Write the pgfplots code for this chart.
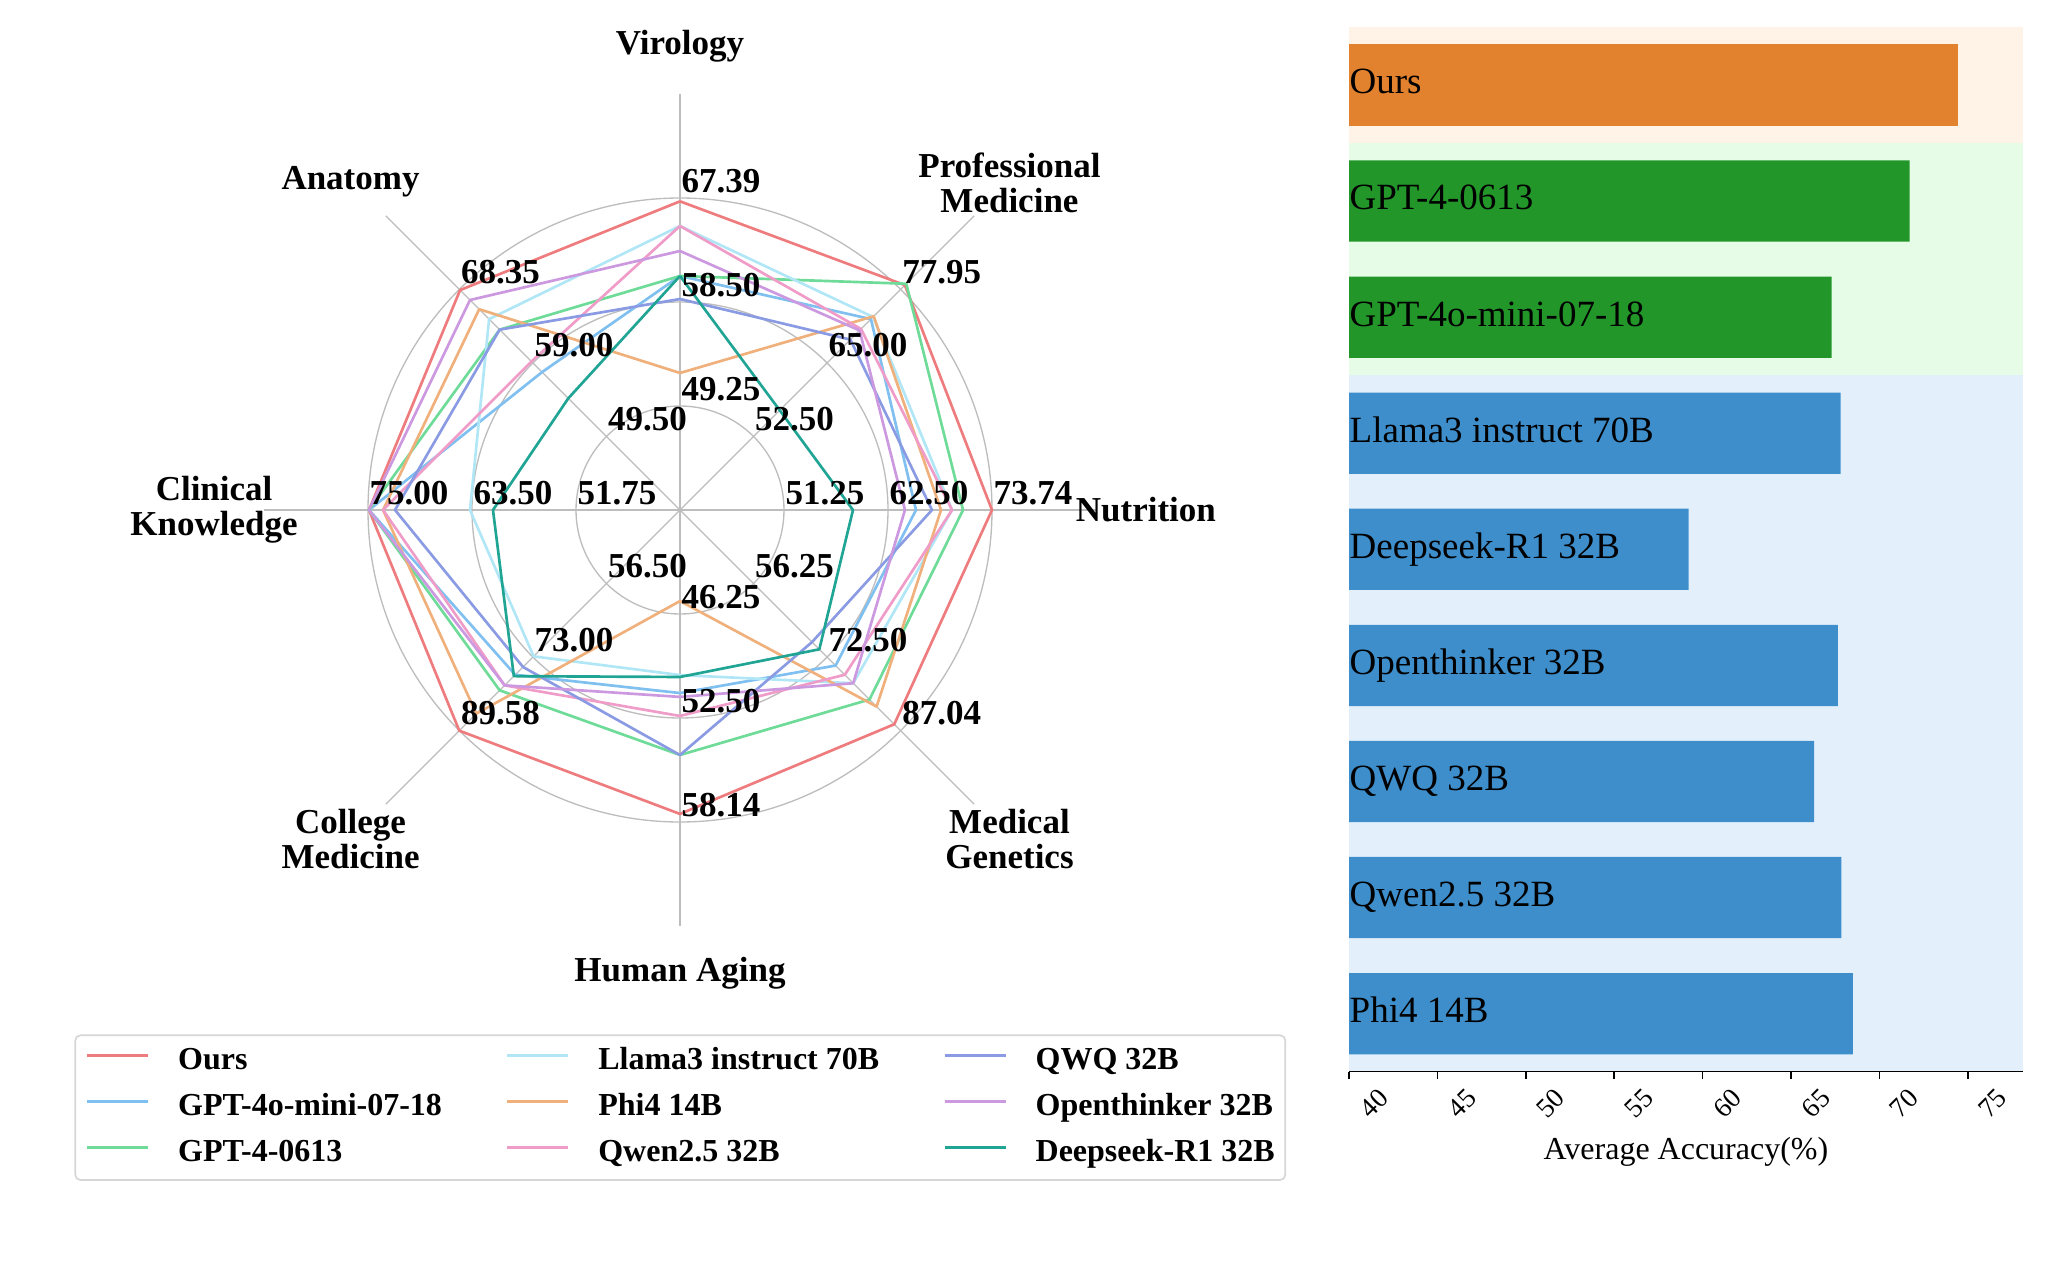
\documentclass[border=0pt]{standalone}
\usepackage{fontspec}
\setmainfont{Liberation Serif}
\usepackage{pgfplots}
\usepackage{pgfplotstable}
\pgfplotsset{compat=1.18}
\definecolor{cOurs}{HTML}{EE7B7D}
\definecolor{cMini}{HTML}{80C0F0}
\definecolor{cGPT}{HTML}{6EDB98}
\definecolor{cLlama}{HTML}{B0E6F5}
\definecolor{cPhi}{HTML}{F0B07C}
\definecolor{cQwen}{HTML}{F09CC8}
\definecolor{cQwq}{HTML}{8A9BE3}
\definecolor{cOpen}{HTML}{CC99E0}
\definecolor{cDeep}{HTML}{20A595}
\definecolor{gridc}{HTML}{BDBDBD}
\definecolor{barO}{HTML}{E2822E}
\definecolor{barG}{HTML}{23962A}
\definecolor{barB}{HTML}{3D8ECB}
\definecolor{bandO}{HTML}{FFF2E6}
\definecolor{bandG}{HTML}{E7FCE7}
\definecolor{bandB}{HTML}{E3F0FC}

% one row per radar axis (angle, value at inner ring, value at outer ring, then one column per model)
\pgfplotstableread{
ang  lo    hi    ours  mini  gpt4  llama phi   qwen  qwq   open  deep
90   49.25 67.39 67.10 60.59 60.59 64.95 52.13 64.95 58.58 62.77 60.59
45   52.50 77.95 78.69 72.81 78.93 73.18 73.30 71.10 69.26 70.85 57.03
0    51.25 73.74 73.74 65.52 70.61 69.42 68.23 69.42 67.25 64.33 58.71
-45  56.25 87.04 85.71 73.42 80.53 77.12 82.01 75.35 68.50 77.12 70.02
-90  46.25 58.14 57.68 50.77 54.31 49.74 45.51 52.08 54.31 50.99 49.85
-135 56.50 89.58 89.60 77.02 80.52 72.88 85.76 79.40 75.27 79.40 77.33
-180 51.75 75.00 74.89 74.89 74.89 63.60 73.32 73.32 71.98 74.89 61.03
-225 49.50 68.35 68.26 57.75 63.19 64.54 65.81 59.11 63.19 66.99 54.39
-270 49.25 67.39 67.10 60.59 60.59 64.95 52.13 64.95 58.58 62.77 60.59
}\radardata

\newcommand{\rr}[1]{(1+2*(\thisrow{#1}-\thisrow{lo})/(\thisrow{hi}-\thisrow{lo}))}
\newcommand{\radar}[3]{\addplot[color=#2, line width=0.8pt, line join=round] table[x expr={\rr{#1}*cos(\thisrow{ang})}, y expr={\rr{#1}*sin(\thisrow{ang})}] {\radardata}; \addlegendentry{#3}}
\newcommand{\rlab}[3]{\node[anchor=base west, inner sep=0pt, xshift=0.3pt, yshift=1.8pt, font=\bfseries\fontsize{10.5}{12}\selectfont] at (axis cs:{#1*cos(#2)},{#1*sin(#2)}) {#3};}

\begin{document}
\begin{tikzpicture}[x=0.3pt,y=0.3pt]
\useasboundingbox (0,0) rectangle (2048,1264);
\coordinate (rc) at (680,754);
\coordinate (bnw) at (1349,1237);

\begin{axis}[at={(rc)}, anchor=center,
  width=249.6pt, height=249.6pt, scale only axis,
  xmin=-4, xmax=4, ymin=-4, ymax=4, hide axis, clip=false,
  legend columns=3, transpose legend,
  legend image code/.code={\path[draw=none,fill=none] (0pt,0pt) rectangle (27.3pt,1.8pt); \draw[#1, line width=0.85pt] (0pt,1.8pt) -- (18.3pt,1.8pt);},
  legend style={at={(axis description cs:-0.2278,-0.1304)}, anchor=north west,
    draw=black!16, line width=0.5pt, rounded corners=1.5pt, fill=white,
    font=\bfseries\fontsize{9.6}{11}\selectfont,
    inner xsep=3.15pt, inner ysep=3.2pt, row sep=4.4pt,
    nodes={inner sep=0pt, text height=7pt, text depth=2.4pt},
    cells={anchor=west},
    /tikz/every even column/.append style={column sep=19.2pt}},
]
% grid
\draw[gridc, line width=0.4pt] (axis cs:0,0) circle[radius=1];
\draw[gridc, line width=0.4pt] (axis cs:0,0) circle[radius=2];
\draw[gridc, line width=0.4pt] (axis cs:0,0) circle[radius=3];
\draw[gridc, line width=0.4pt] (axis cs:-4,0) -- (axis cs:4,0);
\draw[gridc, line width=0.4pt] (axis cs:0,-4) -- (axis cs:0,4);
\draw[gridc, line width=0.4pt] (axis cs:-2.8284,-2.8284) -- (axis cs:2.8284,2.8284);
\draw[gridc, line width=0.4pt] (axis cs:-2.8284,2.8284) -- (axis cs:2.8284,-2.8284);

\radar{ours}{cOurs}{Ours}
\radar{mini}{cMini}{GPT-4o-mini-07-18}
\radar{gpt4}{cGPT}{GPT-4-0613}
\radar{llama}{cLlama}{Llama3 instruct 70B}
\radar{phi}{cPhi}{Phi4 14B}
\radar{qwen}{cQwen}{Qwen2.5 32B}
\radar{qwq}{cQwq}{QWQ 32B}
\radar{open}{cOpen}{Openthinker 32B}
\radar{deep}{cDeep}{Deepseek-R1 32B}

% ring labels per axis
\rlab{1}{90}{49.25}\rlab{2}{90}{58.50}\rlab{3}{90}{67.39}
\rlab{1}{45}{52.50}\rlab{2}{45}{65.00}\rlab{3}{45}{77.95}
\rlab{1}{0}{51.25}\rlab{2}{0}{62.50}\rlab{3}{0}{73.74}
\rlab{1}{-45}{56.25}\rlab{2}{-45}{72.50}\rlab{3}{-45}{87.04}
\rlab{1}{-90}{46.25}\rlab{2}{-90}{52.50}\rlab{3}{-90}{58.14}
\rlab{1}{-135}{56.50}\rlab{2}{-135}{73.00}\rlab{3}{-135}{89.58}
\rlab{1}{180}{51.75}\rlab{2}{180}{63.50}\rlab{3}{180}{75.00}
\rlab{1}{135}{49.50}\rlab{2}{135}{59.00}\rlab{3}{135}{68.35}

% category labels
\begin{scope}[every node/.style={font=\bfseries\fontsize{10.5}{10.5}\selectfont, align=center, inner sep=0pt}]
\node at (axis cs:0,4.46) {Virology};
\node at (axis cs:3.168,3.15) {Professional\\Medicine};
\node at (axis cs:4.48,0) {Nutrition};
\node at (axis cs:3.168,-3.168) {Medical\\Genetics};
\node at (axis cs:0,-4.45) {Human Aging};
\node at (axis cs:-3.168,-3.168) {College\\Medicine};
\node at (axis cs:-4.48,0) {Clinical\\Knowledge};
\node at (axis cs:-3.168,3.16) {Anatomy};
\end{scope}
\end{axis}

\begin{axis}[at={(bnw)}, anchor=north west,
  width=202.2pt, height=313.4pt, scale only axis, axis on top,
  xmin=40, xmax=78.12, ymin=-0.5, ymax=8.5, y dir=reverse,
  xbar, bar width=0.7,
  axis x line*=bottom, axis y line*=left,
  x axis line style={-, line width=0.45pt},
  y axis line style={draw=none},
  xtick={40,45,...,75}, tick align=outside, major tick length=2.1pt,
  xtick style={line width=0.45pt, black},
  ytick={0,...,8},
  yticklabels={Ours, GPT-4-0613, GPT-4o-mini-07-18, Llama3 instruct 70B, Deepseek-R1 32B, Openthinker 32B, QWQ 32B, Qwen2.5 32B, Phi4 14B},
  ytick style={draw=none},
  yticklabel style={anchor=west, inner sep=0pt, text height=7.3pt, text depth=0pt, xshift=2.1pt, yshift=1pt, font=\fontsize{11.1}{12}\selectfont},
  xticklabel style={rotate=45, anchor=center, yshift=-10.5pt, font=\fontsize{8.2}{9}\selectfont},
  /pgf/number format/assume math mode=true,
  xlabel={Average Accuracy(\%)},
  xlabel style={at={(axis description cs:0.5,0)}, anchor=center, yshift=-24pt, font=\fontsize{9.6}{11}\selectfont},
]
\fill[bandO] (axis cs:40,-0.5) rectangle (axis cs:78.12,0.5);
\fill[bandG] (axis cs:40,0.5) rectangle (axis cs:78.12,2.5);
\fill[bandB] (axis cs:40,2.5) rectangle (axis cs:78.12,8.5);
\addplot[fill=barO, draw=none, bar shift=0pt] coordinates {(74.42,0)};
\addplot[fill=barG, draw=none, bar shift=0pt] coordinates {(71.71,1) (67.30,2)};
\addplot[fill=barB, draw=none, bar shift=0pt] coordinates {(67.80,3) (59.21,4) (67.65,5) (66.30,6) (67.85,7) (68.50,8)};
\end{axis}
\end{tikzpicture}
\end{document}
